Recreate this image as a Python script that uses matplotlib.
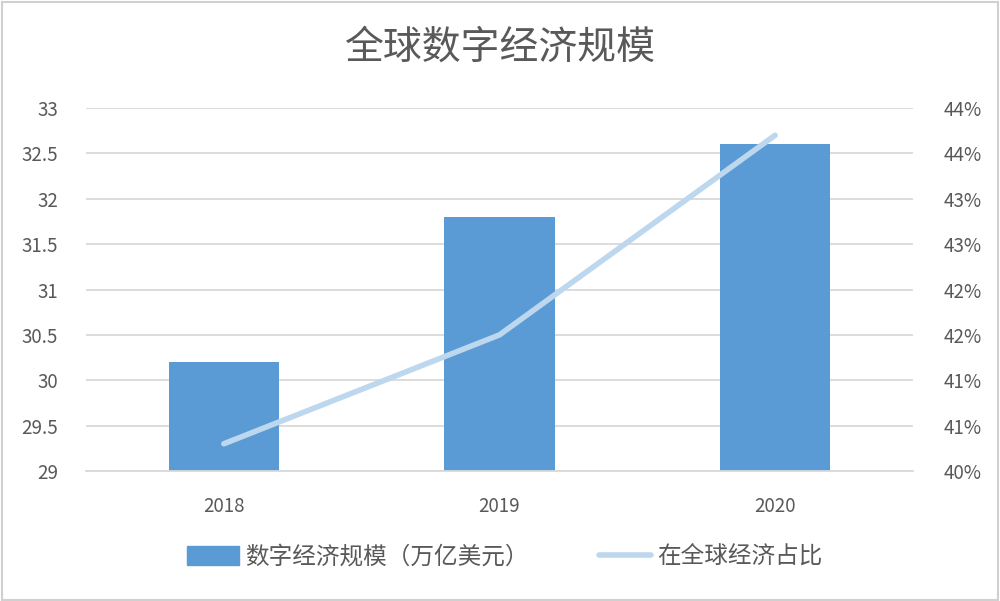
import matplotlib
matplotlib.use("Agg")
import matplotlib.pyplot as plt
import numpy as np
from matplotlib.patches import Rectangle
from matplotlib.lines import Line2D

plt.rcParams["font.family"] = ["Noto Sans CJK SC", "DejaVu Sans"]

years = ["2018", "2019", "2020"]
scale = [30.2, 31.8, 32.6]          # 万亿美元
share = [0.403, 0.415, 0.437]       # 在全球经济占比
left_ticks = [29, 29.5, 30, 30.5, 31, 31.5, 32, 32.5, 33]
right_ticks = [0.400, 0.405, 0.410, 0.415, 0.420, 0.425, 0.430, 0.435, 0.440]

TEXT = "#595959"
GRID = "#d9d9d9"
BAR = "#5b9bd5"
LINE = "#bdd7ee"

fig = plt.figure(figsize=(10, 6.01), dpi=100)
fig.patches.append(Rectangle((0.002, 0.002), 0.996, 0.995, transform=fig.transFigure,
                             fill=False, edgecolor="#d0d0d0", linewidth=1.5))

ax = fig.add_axes([0.086, 0.2163, 0.827, 0.604])
x = np.arange(len(years))
ax.bar(x, scale, width=0.40, color=BAR, zorder=2)
ax.set_xlim(-0.5, len(years) - 0.5)
ax.set_ylim(29, 33)
ax.set_yticks(left_ticks)
ax.set_yticklabels([f"{v:g}" for v in left_ticks])
ax.set_xticks(x)
ax.set_xticklabels(years)
ax.grid(axis="y", color=GRID, linewidth=1.3, zorder=0)
for s in ax.spines.values():
    s.set_visible(False)
ax.spines["bottom"].set_visible(True)
ax.spines["bottom"].set_color(GRID)
ax.spines["bottom"].set_linewidth(1.3)
ax.tick_params(length=0, labelsize=13.5, labelcolor=TEXT)
ax.tick_params(axis="x", pad=18)
ax.tick_params(axis="y", pad=20)

ax2 = ax.twinx()
ax2.plot(x, share, color=LINE, linewidth=4, solid_capstyle="round", zorder=3)
ax2.set_ylim(0.40, 0.44)
ax2.set_yticks(right_ticks)
ax2.set_yticklabels([f"{int(np.floor(v * 100 + 0.5))}%" for v in right_ticks])
for s in ax2.spines.values():
    s.set_visible(False)
ax2.tick_params(length=0, labelsize=13.5, labelcolor=TEXT, pad=22)

fig.text(0.5, 0.921, "全球数字经济规模", ha="center", va="center",
         fontsize=28, color=TEXT, fontweight="medium")

handles = [Rectangle((0, 0), 1, 1, color=BAR),
           Line2D([0], [0], color=LINE, linewidth=4, solid_capstyle="round")]
fig.legend(handles, ["数字经济规模（万亿美元）", "在全球经济占比"],
           loc="center", bbox_to_anchor=(0.505, 0.073), ncol=2, frameon=False,
           fontsize=17, labelcolor=TEXT, handlelength=2.2, handleheight=0.85,
           handletextpad=0.25, columnspacing=3.0)

fig.savefig("out.png", dpi=100)
